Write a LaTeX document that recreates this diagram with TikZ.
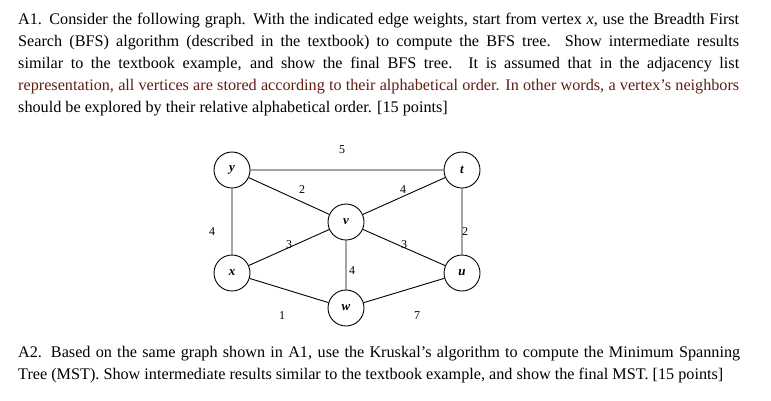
\documentclass[tikz,border=0pt]{standalone}
\usepackage{fontspec}
\setmainfont{Liberation Serif}
\begin{document}
\begin{tikzpicture}[x=1pt,y=-1pt,
  vtx/.style={draw,circle,line width=0.9pt,minimum size=36pt,inner sep=0pt,font=\fontsize{13}{13}\selectfont\bfseries\itshape},
  wl/.style={font=\fontsize{12}{12}\selectfont,inner sep=0pt},
  ln/.style={anchor=base west,inner sep=0pt,font=\fontsize{16.2}{16}\selectfont}]
\useasboundingbox (0,0) rectangle (771,400);
\node[ln] (l1) at (18,24) {\makebox[721pt][s]{A1. Consider the following graph. With the indicated edge weights, start from vertex \textit{x}, use the Breadth First}};
\node[ln] (l2) at (18,46) {\makebox[721pt][s]{Search (BFS) algorithm (described in the textbook) to compute the BFS tree.\ \ Show intermediate results}};
\node[ln] (l3) at (18,68) {\makebox[721pt][s]{similar to the textbook example, and show the final BFS tree. It is assumed that in the adjacency list}};
\node[ln,text={rgb,255:red,95;green,30;blue,20}] (l4) at (18,90) {\makebox[721pt][s]{representation, all vertices are stored according to their alphabetical order. In other words, a vertex’s neighbors}};
\node[ln] (l5) at (18,112) {should be explored by their relative alphabetical order. [15 points]};
\node[ln] (m1) at (18,357) {\makebox[722pt][s]{A2. Based on the same graph shown in A1, use the Kruskal's algorithm to compute the Minimum Spanning}};
\node[ln] (m2) at (18,379) {Tree (MST). Show intermediate results similar to the textbook example, and show the final MST. [15 points]};
\node[vtx] (y) at (232,170) {y};
\node[vtx] (t) at (462,170) {t};
\node[vtx] (v) at (346,222) {v};
\node[vtx] (x) at (232,273) {x};
\node[vtx] (u) at (462,273) {u};
\node[vtx] (w) at (346,308) {w};
\draw[line width=0.9pt] (y)--(t) (y)--(v) (v)--(t) (y)--(x) (t)--(u) (x)--(v) (v)--(u) (v)--(w) (x)--(w) (w)--(u);
\node[wl] (a) at (342,150) {5};
\node[wl] (b) at (302,190) {2};
\node[wl] (c) at (403,190) {4};
\node[wl] (d) at (212,232) {4};
\node[wl] (e) at (465,232) {2};
\node[wl] (f) at (289,245) {3};
\node[wl] (g) at (404,245) {3};
\node[wl] (h) at (352,271) {4};
\node[wl] (i) at (282,316) {1};
\node[wl] (j) at (417,316) {7};
\end{tikzpicture}
\end{document}
